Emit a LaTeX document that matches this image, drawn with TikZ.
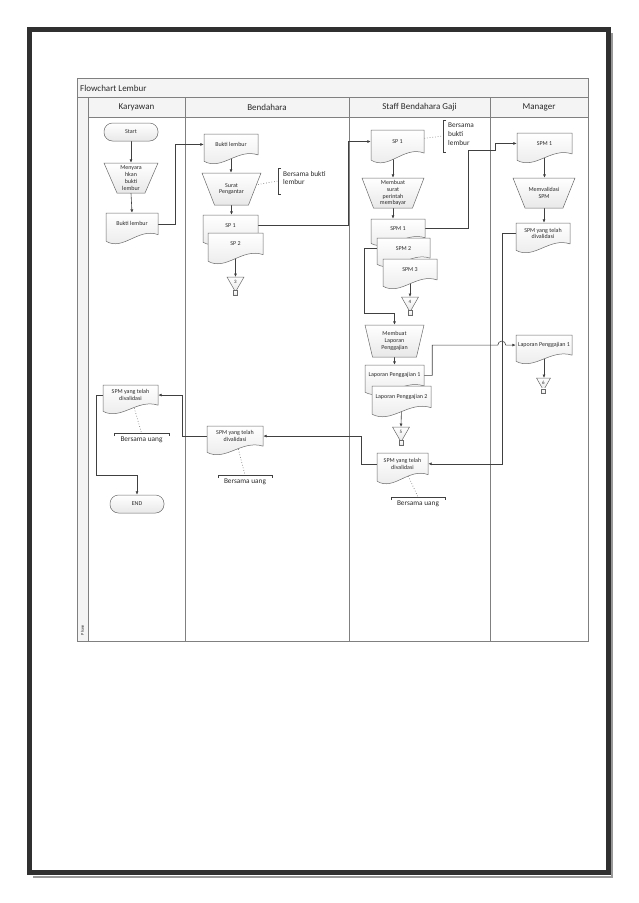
\documentclass[tikz,border=0pt]{standalone}
\usepackage{fontspec}
\setmainfont{Carlito}
\usetikzlibrary{arrows.meta,calc}
\pgfdeclarelayer{tab}
\pgfdeclarelayer{conn}
\pgfsetlayers{tab,conn,main}
\definecolor{framec}{HTML}{303030}
\definecolor{tabline}{HTML}{808080}
\definecolor{hdrfill}{HTML}{F4F4F4}
\definecolor{flowc}{HTML}{404040}
\definecolor{shpline}{HTML}{6A6A6A}
\definecolor{txtc}{HTML}{2A2A2A}
\tikzset{
 shp/.style={draw=shpline, line width=0.5pt, top color=white, bottom color=black!9},
 shptxt/.style={inner sep=0pt, align=center, font=\fontsize{6}{6.8}\selectfont, text=txtc},
 flow/.style={draw=flowc, line width=0.6pt, -{Latex[length=3.5pt,width=3pt]}},
 annot/.style={draw=gray, line width=0.7pt, dotted},
 brk/.style={draw=flowc, line width=0.6pt},
 brktxt/.style={inner sep=0pt, align=left, font=\fontsize{7.3}{8.6}\selectfont, text=txtc},
 term/.style={shp, rounded corners=8.5pt, minimum width=54pt, minimum height=18pt, inner sep=0pt, font=\fontsize{6}{6.8}\selectfont, text=txtc},
 lane/.style={draw=tabline, line width=0.6pt},
 hdr/.style={inner sep=0pt, font=\fontsize{9}{10}\selectfont, text=txtc},
}
% document shape: name, x1, y1, x2, y2, text
\newcommand\fcdoc[6]{%
 \pgfmathsetmacro\dW{#4-#2}\pgfmathsetmacro\dH{#5-#3}%
 \pgfmathsetmacro\yR{#5-0.28*\dH}\pgfmathsetmacro\yL{#5-0.06*\dH}%
 \pgfmathsetmacro\cAx{#2+0.62*\dW}\pgfmathsetmacro\cAy{#5-0.52*\dH}%
 \pgfmathsetmacro\cBx{#2+0.33*\dW}\pgfmathsetmacro\cBy{#5+0.28*\dH}%
 \path[shp] (#2,#3) -- (#4,#3) -- (#4,\yR) .. controls (\cAx,\cAy) and (\cBx,\cBy) .. (#2,\yL) -- cycle;%
 \pgfmathsetmacro\nX{(#2+#4)/2}\pgfmathsetmacro\nY{(#3+\yR)/2}\pgfmathsetmacro\nH{\yR-#3}%
 \node[shptxt, minimum width=\dW pt, minimum height=\nH pt] (#1) at (\nX,\nY) {#6};}
% manual operation: name, cx, y1, y2, top width, bottom width, text
\newcommand\fcman[7]{%
 \path[shp] ({#2-#5/2},#3) -- ({#2+#5/2},#3) -- ({#2+#6/2},#4) -- ({#2-#6/2},#4) -- cycle;%
 \pgfmathsetmacro\mH{#4-#3}%
 \node[shptxt, minimum width=#5pt, minimum height=\mH pt] (#1) at (#2,{(#3+#4)/2}) {#7};}
% off-page reference: name, cx, ytop, width, label
\newcommand\fcoff[5]{%
 \pgfmathsetmacro\oH{#4*0.88}%
 \path[shp] ({#2-#4/2},#3) -- ({#2+#4/2},#3) -- (#2,{#3+\oH}) -- cycle;%
 \path[shp] ({#2-2.2},{#3+\oH-1.5}) rectangle ({#2+2.2},{#3+\oH+3});%
 \node[shptxt, font=\fontsize{5}{5}\selectfont, minimum height=9pt, anchor=north] (#1) at (#2,#3) {#5};}
% horizontal annotation bracket: name, x1, x2, y, text
\newcommand\fchbr[5]{%
 \draw[brk] (#2,#4+3) -- (#2,#4) -- (#3,#4) -- (#3,#4+3);%
 \coordinate (#1) at ({(#2+#3)/2},#4);%
 \node[brktxt, anchor=north] (#1t) at ({(#2+#3)/2},#4+3.5) {#5};}
% vertical annotation bracket: name, x, y1, y2, text
\newcommand\fcvbr[5]{%
 \draw[brk] (#2+3,#3) -- (#2,#3) -- (#2,#4) -- (#2+3,#4);%
 \coordinate (#1) at (#2,{(#3+#4)/2});%
 \node[brktxt, anchor=north west] (#1t) at (#2+5,#3+3) {#5};}
\begin{document}
\begin{tikzpicture}[x=1pt,y=-1pt]
\useasboundingbox (0,0) rectangle (638,903);
% page frame
\draw[line width=2pt, black!40] (612,33) -- (612,877) -- (33,877);
\draw[line width=5pt, framec] (29.5,29.5) rectangle (608.5,872.5);
% swimlane table
\begin{pgfonlayer}{tab}
\fill[hdrfill] (77,78) rectangle (588,117);
\fill[hdrfill] (77,117) rectangle (88,641);
\draw[lane] (77,78) rectangle (588,641);
\draw[lane] (77,97) -- (588,97);
\draw[lane] (88,117) -- (588,117);
\foreach \x in {88,185,349,490} \draw[lane] (\x,97) -- (\x,641);
\end{pgfonlayer}
\node[hdr, anchor=west] (title) at (80,88) {Flowchart Lembur};
\node[hdr] (hk) at (136.5,107.5) {Karyawan};
\node[hdr] (hb) at (267,107.5) {Bendahara};
\node[hdr] (hs) at (419.5,107.5) {Staff Bendahara Gaji};
\node[hdr] (hm) at (539,107.5) {Manager};
\node[rotate=90, inner sep=0pt, font=\fontsize{4.2}{5}\selectfont, text=txtc] (phase) at (82.5,630) {Phase};
% Karyawan
\node[term] (kstart) at (131,132) {Start};
\fcman{kmen}{131}{163}{193}{54}{28}{Menyara\\hkan\\bukti\\lembur}
\fcdoc{kbukti}{106}{213}{158}{243}{Bukti lembur}
\fcdoc{kspm}{103}{385}{158}{413}{SPM yang telah\\divalidasi}
\fchbr{kbr}{114}{169}{433}{Bersama uang}
\node[term] (kend) at (137,504) {END};
% Bendahara
\fcdoc{bbl}{204}{134}{258}{163}{Bukti lembur}
\fcman{bsur}{231.5}{173}{205}{59}{34}{Surat\\Pengantar}
\fcvbr{bbr}{278}{168}{194}{Bersama bukti\\lembur}
\fcdoc{bsp1}{203}{215}{258}{244}{SP 1}
\fcdoc{bsp2}{208}{233}{263}{263}{SP 2}
\fcoff{boff}{235.5}{277}{17}{3}
\fcdoc{bspm}{207}{426}{263}{454}{SPM yang telah\\divalidasi}
\fchbr{bbr2}{218}{272}{475}{Bersama uang}
% Staff Bendahara Gaji
\fcdoc{ssp1}{371}{130}{424}{162}{SP 1}
\fcvbr{sbr}{443}{120}{152}{Bersama\\bukti\\lembur}
\fcman{smem}{393}{178}{208}{62}{39}{Membuat\\surat\\perintah\\membayar}
\fcdoc{sspm1}{371}{219}{425}{245}{SPM 1}
\fcdoc{sspm2}{377}{238}{430}{266}{SPM 2}
\fcdoc{sspm3}{383}{259}{437}{288}{SPM 3}
\fcoff{soff4}{410}{297}{17}{4}
\fcman{slap}{394.5}{325}{357}{59}{44}{Membuat\\Laporan\\Penggajian}
\fcdoc{slp1}{365}{365}{424}{394}{Laporan Penggajian 1}
\fcdoc{slp2}{372}{386}{431}{416}{Laporan Penggajian 2}
\fcoff{soff5}{401}{427}{17}{5}
\fcdoc{sspm}{377}{453}{428}{483}{SPM yang telah\\divalidasi}
\fchbr{sbr2}{391}{445}{497}{Bersama uang}
% Manager
\fcdoc{mspm1}{517}{133}{572}{162}{SPM 1}
\fcman{mval}{544}{178}{208}{62}{38}{Memvalidasi\\SPM}
\fcdoc{mspmv}{516}{223}{570}{252}{SPM yang telah\\divalidasi}
\fcdoc{mlp1}{516}{335}{572}{363}{Laporan Penggajian 1}
\fcoff{moff6}{543.5}{378}{14}{6}
% connectors
\begin{pgfonlayer}{conn}
\draw[flow] (kstart.south) -- (kmen.north);
\draw[flow] (kmen.south) -- (kbukti.north);
\draw[flow] (kbukti.east) -- ++(17,0) |- (bbl.west);
\draw[flow] (bbl.south) -- (bbl.south |- bsur.north);
\draw[flow] (bsur.south) -- (bsur.south |- bsp1.north);
\draw[flow] (bsp2.south) -- (boff.north);
\draw[flow] (bsp1.east) -- ++(90,0) |- (ssp1.west);
\draw[flow] (smem.north |- ssp1.south) -- (smem.north);
\draw[flow] (smem.south) -- (smem.south |- sspm1.north);
\draw[flow] (sspm3.south) -- (soff4.north);
\draw[flow] (sspm1.east) -- ++(43,0) |- ($(mspm1.west)+(-22,7)$) |- (mspm1.west);
\draw[flow] (sspm2.west) -- ++(-13,0) |- ($(slap.north)+(0,-12)$) -- (slap.north);
\draw[flow] (slap.south) -- (slap.south |- slp1.north);
\draw[flow] (slp2.south) -- (soff5.north);
\draw[flow] (slp1.east) -- ++(8,0) |- ($(mlp1.west)+(-18,0)$) arc[start angle=180, end angle=360, radius=4] -- (mlp1.west);
\draw[flow] (mspm1.south) -- (mspm1.south |- mval.north);
\draw[flow] (mval.south) -- (mval.south |- mspmv.north);
\draw[flow] (mlp1.south) -- (mlp1.south |- moff6.north);
\draw[flow] (mspmv.west) -- ++(-14,0) |- (sspm.east);
\draw[flow] (sspm.west) -- ++(-16,0) |- (bspm.east);
\draw[flow] (bspm.west) -- ++(-25,0) |- (kspm.east);
\draw[flow] (kspm.west) -- ++(-7,0) |- ($(kend.north)+(0,-19)$) -- (kend.north);
\draw[annot] (bsur.center) -- (bbr);
\draw[annot] (ssp1.center) -- (sbr);
\draw[annot] (kspm.center) -- (kbr);
\draw[annot] (bspm.center) -- (bbr2);
\draw[annot] (sspm.center) -- (sbr2);
\end{pgfonlayer}
\end{tikzpicture}
\end{document}
